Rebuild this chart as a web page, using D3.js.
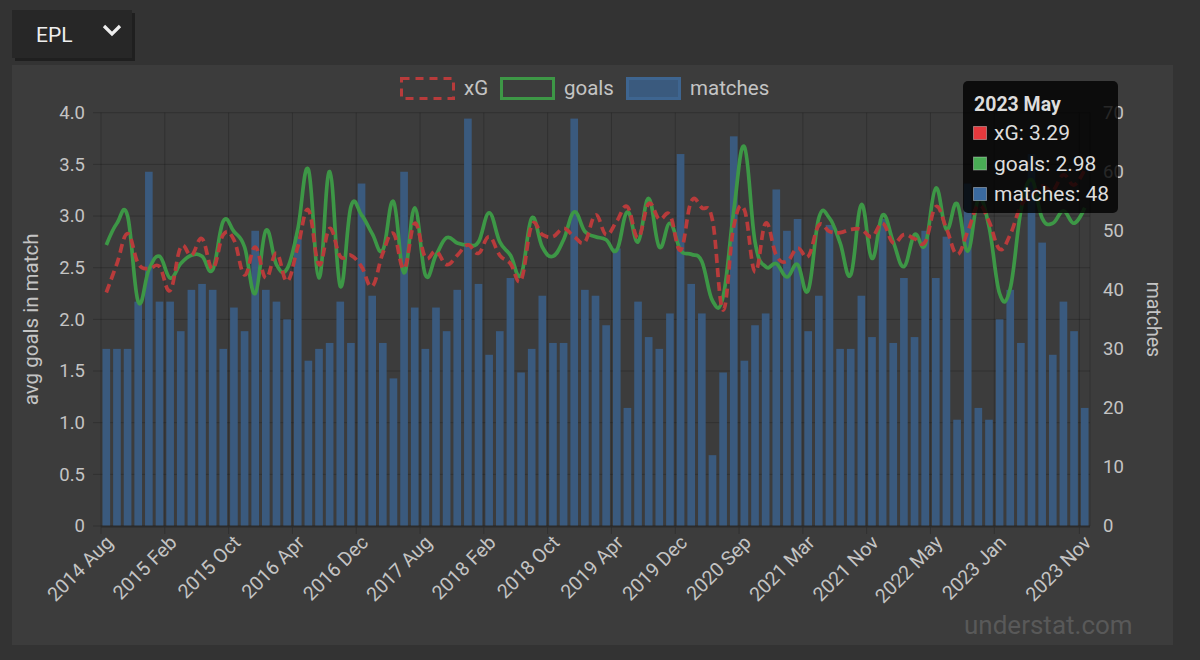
<!DOCTYPE html>
<html>
<head>
<meta charset="utf-8">
<script src="https://cdn.jsdelivr.net/npm/d3@7"></script>
<style>
  body { margin: 0; background: #333; }
  svg { display: block; font-family: Roboto, "Noto Sans", sans-serif; }
</style>
</head>
<body>
<svg id="chart" width="1200" height="660"></svg>
<script>
const months = [
  "2014 Aug","2014 Sep","2014 Oct","2014 Nov","2014 Dec","2015 Jan","2015 Feb","2015 Mar","2015 Apr","2015 May",
  "2015 Aug","2015 Sep","2015 Oct","2015 Nov","2015 Dec","2016 Jan","2016 Feb","2016 Mar","2016 Apr","2016 May",
  "2016 Aug","2016 Sep","2016 Oct","2016 Nov","2016 Dec","2017 Jan","2017 Feb","2017 Mar","2017 Apr","2017 May",
  "2017 Aug","2017 Sep","2017 Oct","2017 Nov","2017 Dec","2018 Jan","2018 Feb","2018 Mar","2018 Apr","2018 May",
  "2018 Aug","2018 Sep","2018 Oct","2018 Nov","2018 Dec","2019 Jan","2019 Feb","2019 Mar","2019 Apr","2019 May",
  "2019 Aug","2019 Sep","2019 Oct","2019 Nov","2019 Dec","2020 Jan","2020 Feb","2020 Mar","2020 Jun","2020 Jul",
  "2020 Sep","2020 Oct","2020 Nov","2020 Dec","2021 Jan","2021 Feb","2021 Mar","2021 Apr","2021 May",
  "2021 Aug","2021 Sep","2021 Oct","2021 Nov","2021 Dec","2022 Jan","2022 Feb","2022 Mar","2022 Apr","2022 May",
  "2022 Aug","2022 Sep","2022 Oct","2022 Nov","2022 Dec","2023 Jan","2023 Feb","2023 Mar","2023 Apr","2023 May",
  "2023 Aug","2023 Sep","2023 Oct","2023 Nov"
];

const xG = [
  2.26,2.54,2.83,2.54,2.49,2.51,2.28,2.70,2.62,2.78,
  2.49,2.82,2.77,2.43,2.70,2.40,2.64,2.37,2.70,3.06,
  2.53,2.88,2.61,2.62,2.51,2.32,2.64,2.83,2.49,2.93,
  2.60,2.66,2.53,2.62,2.72,2.64,2.80,2.62,2.54,2.38,
  2.91,2.82,2.80,2.88,2.80,2.75,3.01,2.82,2.95,3.09,
  2.79,3.12,2.97,3.01,2.67,3.14,3.08,2.96,2.09,2.90,
  3.06,2.46,2.93,2.62,2.56,2.69,2.61,2.91,2.85,
  2.84,2.87,2.87,2.80,2.93,2.74,2.82,2.78,2.75,3.09,
  2.88,2.63,2.85,3.10,2.95,2.68,2.82,3.10,3.20,3.29,
  3.25,3.40,3.30,3.45
];

const goals = [
  2.72,2.93,3.00,2.17,2.48,2.61,2.40,2.54,2.62,2.61,
  2.48,2.95,2.85,2.70,2.25,2.86,2.53,2.49,2.87,3.45,
  2.40,3.43,2.32,3.09,3.01,2.83,2.67,3.14,2.45,3.08,
  2.43,2.62,2.79,2.74,2.72,2.75,3.03,2.75,2.62,2.43,
  2.98,2.70,2.61,2.77,3.04,2.85,2.80,2.77,2.67,3.04,
  2.75,3.17,2.70,2.93,2.67,2.63,2.56,2.18,2.22,3.05,
  3.67,2.75,2.51,2.54,2.41,2.53,2.28,2.98,2.98,
  2.74,2.43,3.11,2.59,3.01,2.75,2.51,2.82,2.72,3.27,
  2.87,3.12,2.66,3.16,2.90,2.25,2.30,3.05,3.35,2.98,
  2.93,3.05,2.93,3.08
];

const matches = [
  30,30,30,38,60,38,38,33,40,41,
  40,30,37,33,50,40,38,35,49,28,
  30,31,38,31,58,39,31,25,60,37,
  30,37,33,40,69,41,29,33,42,26,
  30,39,31,31,69,40,39,34,47,20,
  38,32,30,36,63,41,36,12,26,66,
  28,34,36,57,50,52,33,39,51,
  30,30,39,32,52,31,42,32,50,42,
  49,18,58,20,18,35,40,31,63,48,
  29,38,33,20
];

const goalTicks = [0, 0.5, 1, 1.5, 2, 2.5, 3, 3.5, 4];
const matchTicks = [0, 10, 20, 30, 40, 50, 60, 70];
const xTickLabels = ["2014 Aug","2015 Feb","2015 Oct","2016 Apr","2016 Dec","2017 Aug","2018 Feb","2018 Oct",
  "2019 Apr","2019 Dec","2020 Sep","2021 Mar","2021 Nov","2022 May","2023 Jan","2023 Nov"];
const tipMonth = "2023 May";

const svg = d3.select("#chart");
const plot = { left: 101, right: 1090, top: 112.7, bottom: 526 };

const red = "#b83b3b", green = "#3d9746", blue = "#3a5a7e";
const tickColor = "#c4c4c4";

// page + dropdown + panel
svg.append("rect").attr("width", 1200).attr("height", 660).attr("fill", "#333333");
svg.append("rect").attr("x", 15).attr("y", 13).attr("width", 120).attr("height", 48).attr("fill", "#1f1f1f");
svg.append("rect").attr("x", 12).attr("y", 10).attr("width", 120).attr("height", 48).attr("fill", "#272727");
svg.append("text").attr("x", 36).attr("y", 42).attr("fill", "#eeeeee")
  .style("font-size", "21px").text("EPL");
svg.append("path").attr("d", "M104,26 L112,34 L120,26").attr("fill", "none")
  .attr("stroke", "#eeeeee").attr("stroke-width", 3.2);
svg.append("rect").attr("x", 12).attr("y", 65).attr("width", 1161).attr("height", 580).attr("fill", "#3c3c3c");

// scales
const x = d3.scaleBand().domain(months).range([plot.left, plot.right]).padding(0);
const bw = x.bandwidth();
const cx = m => x(m) + bw / 2;
const yL = d3.scaleLinear().domain([0, 4]).range([plot.bottom, plot.top]);
const yR = d3.scaleLinear().domain([0, 70]).range([plot.bottom, plot.top]);

// grid
const grid = svg.append("g").attr("stroke", "rgba(0,0,0,0.2)").attr("stroke-width", 1);
grid.selectAll(".h").data(goalTicks).enter().append("line")
  .attr("x1", plot.left - 8).attr("x2", plot.right)
  .attr("y1", d => yL(d)).attr("y2", d => yL(d));
grid.selectAll(".v").data(xTickLabels).enter().append("line")
  .attr("x1", d => x(d)).attr("x2", d => x(d))
  .attr("y1", plot.top).attr("y2", plot.bottom + 8);
grid.append("line").attr("x1", plot.right).attr("x2", plot.right)
  .attr("y1", plot.top).attr("y2", plot.bottom);

// bars
svg.append("g").selectAll("rect").data(matches).enter().append("rect")
  .attr("x", (d, i) => x(months[i]) + bw * 0.14)
  .attr("width", bw * 0.72)
  .attr("y", d => yR(d))
  .attr("height", d => yR(0) - yR(d))
  .attr("fill", blue);

// base axis line
svg.append("line").attr("x1", plot.left).attr("x2", plot.right)
  .attr("y1", plot.bottom + 0.5).attr("y2", plot.bottom + 0.5)
  .attr("stroke", "#2b2b2b").attr("stroke-width", 2);

// lines
const curve = d3.curveCardinal.tension(-0.2);
const line = d3.line().x((d, i) => cx(months[i])).y(d => yL(d)).curve(curve);

svg.append("path").datum(goals).attr("d", line)
  .attr("fill", "none").attr("stroke", green).attr("stroke-width", 3.7);
svg.append("path").datum(xG).attr("d", line)
  .attr("fill", "none").attr("stroke", red).attr("stroke-width", 3.7)
  .attr("stroke-dasharray", "9,5");

// left axis
const leftAxis = svg.append("g").attr("transform", `translate(${plot.left - 13},0)`)
  .call(d3.axisLeft(yL).tickValues(goalTicks).tickSize(0)
    .tickFormat(d => d === 0 ? "0" : d3.format(".1f")(d)));
leftAxis.select(".domain").remove();
leftAxis.selectAll("text").attr("fill", tickColor).style("font-size", "18.5px")
  .style("font-family", "Roboto, sans-serif");

svg.append("text")
  .attr("transform", `translate(38,${(plot.top + plot.bottom) / 2}) rotate(-90)`)
  .attr("text-anchor", "middle").attr("fill", tickColor).style("font-size", "20.5px")
  .text("avg goals in match");

// right axis
const rightAxis = svg.append("g").attr("transform", `translate(${plot.right + 10},0)`)
  .call(d3.axisRight(yR).tickValues(matchTicks).tickSize(0));
rightAxis.select(".domain").remove();
rightAxis.selectAll("text").attr("fill", tickColor).style("font-size", "18.5px")
  .style("font-family", "Roboto, sans-serif");

svg.append("text")
  .attr("transform", `translate(1147,${(plot.top + plot.bottom) / 2}) rotate(90)`)
  .attr("text-anchor", "middle").attr("fill", tickColor).style("font-size", "19.5px")
  .text("matches");

// x labels
svg.append("g").selectAll("text").data(xTickLabels).enter().append("text")
  .attr("transform", d => `translate(${cx(d) + 3},${plot.bottom + 13}) rotate(-45)`)
  .attr("text-anchor", "end").attr("dy", "0.35em")
  .attr("fill", tickColor).style("font-size", "19.5px")
  .text(d => d);

// legend
const legendItems = [
  { name: "xG", x: 400, stroke: red, fill: "none", dash: "8,6" },
  { name: "goals", x: 500, stroke: green, fill: "none", dash: null },
  { name: "matches", x: 626, stroke: "#3e6590", fill: blue, dash: null }
];
const legend = svg.append("g");
legendItems.forEach(it => {
  legend.append("rect").attr("x", it.x + 1.5).attr("y", 78.5).attr("width", 52).attr("height", 20)
    .attr("fill", it.fill).attr("stroke", it.stroke).attr("stroke-width", 3)
    .attr("stroke-dasharray", it.dash);
  legend.append("text").attr("x", it.x + 64).attr("y", 95).attr("fill", tickColor)
    .style("font-size", "20.5px").text(it.name);
});

// tooltip
const ti = months.indexOf(tipMonth);
const tip = svg.append("g").attr("transform", "translate(963,81)");
tip.append("rect").attr("width", 155).attr("height", 132).attr("rx", 5)
  .attr("fill", "rgba(0,0,0,0.8)");
tip.append("text").attr("x", 11).attr("y", 30).attr("fill", "#dddddd")
  .style("font-size", "19.5px").style("font-weight", "bold").text(tipMonth);
const tipRows = [
  { label: "xG: " + xG[ti].toFixed(2), color: "#e5393d" },
  { label: "goals: " + goals[ti].toFixed(2), color: "#49ad55" },
  { label: "matches: " + matches[ti], color: "#3a6aa0" }
];
tipRows.forEach((r, k) => {
  tip.append("rect").attr("x", 10.5).attr("y", 45.5 + k * 30.5).attr("width", 13).attr("height", 13)
    .attr("fill", r.color).attr("stroke", "rgba(255,255,255,0.35)").attr("stroke-width", 1);
  tip.append("text").attr("x", 31).attr("y", 59 + k * 30.5).attr("fill", "#dddddd")
    .style("font-size", "21px").text(r.label);
});

// watermark
svg.append("text").attr("x", 964).attr("y", 634).attr("fill", "#595959")
  .style("font-size", "26px").text("understat.com");
</script>
</body>
</html>
